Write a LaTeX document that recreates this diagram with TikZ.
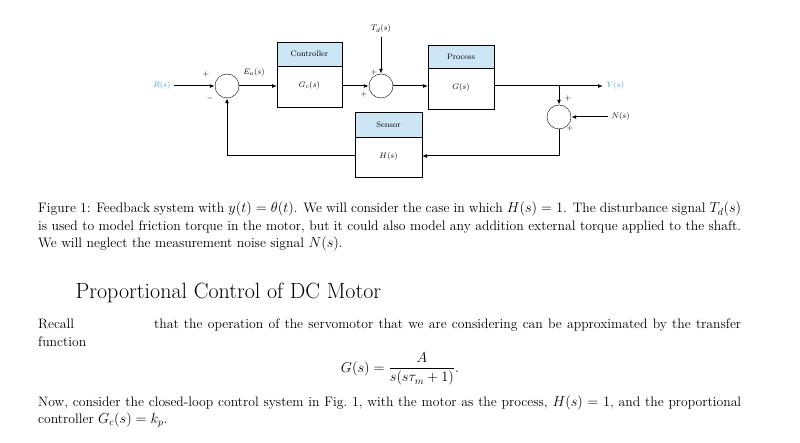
\documentclass[tikz,border=0pt]{standalone}
\usepackage{amsmath}
\usetikzlibrary{arrows.meta}
\definecolor{hdr}{RGB}{205,230,245}
\definecolor{sig}{RGB}{60,160,210}
\begin{document}
\begin{tikzpicture}[x=1pt,y=-1pt,
  sum/.style={circle,draw,minimum size=24pt,inner sep=0pt},
  line/.style={draw,line width=1pt},
  arr/.style={line,-{Latex[length=5pt,width=4pt]}},
  lbl/.style={font=\fontsize{8}{9}\selectfont},
  para/.style={anchor=north west,text width=703pt,align=justify,inner sep=0pt,font=\fontsize{13.7}{17.5}\selectfont}]
\useasboundingbox (0,0) rectangle (800,443);
% boxes
\fill[hdr] (277,42) rectangle (342,66);
\draw[line width=0.7pt] (277,42) rectangle (342,107) (277,66)--(342,66);
\node[lbl] (ct) at (309.5,54) {Controller};
\node[lbl] (gc) at (309.5,86) {$G_c(s)$};
\fill[hdr] (428,45) rectangle (494,68);
\draw[line width=0.7pt] (428,45) rectangle (494,109) (428,68)--(494,68);
\node[lbl] (pt) at (461,57) {Process};
\node[lbl] (gp) at (461,88) {$G(s)$};
\fill[hdr] (355,112) rectangle (422,137);
\draw[line width=0.7pt] (355,112) rectangle (422,177) (355,137)--(422,137);
\node[lbl] (st) at (388.5,124.5) {Sensor};
\node[lbl] (hs) at (388.5,157) {$H(s)$};
\coordinate (cl) at (277,86); \coordinate (cr) at (342,86);
\coordinate (pl) at (428,86); \coordinate (pr) at (494,86);
\coordinate (hr) at (422,156); \coordinate (hl) at (355,156);
\node[sum] (s1) at (227,86) {};
\node[sum] (s2) at (381,86) {};
\node[sum] (s3) at (559,117) {};
\node[lbl,text=sig,anchor=east] (r) at (174,86) {$R(s)$};
\node[lbl,text=sig,anchor=west] (y) at (603,86) {$Y(s)$};
\node[lbl,anchor=west] (n) at (608,117) {$N(s)$};
\node[lbl] (td) at (381,29) {$T_d(s)$};
\node[lbl] (ea) at (254,73) {$E_a(s)$};
\coordinate (br) at (559,86);
\draw[arr] (r) -- (s1);
\draw[arr] (s1) -- (cl);
\draw[arr] (cr) -- (s2);
\draw[arr] (s2) -- (pl);
\draw[arr] (pr) -- (y.west);
\draw[arr] (br) -- (s3);
\draw[arr] (n.west) -- (s3);
\draw[arr] (td) -- (s2);
\draw[arr] (s3) |- (hr);
\draw[arr] (hl) -| (s1);
\node[lbl] at (206,75) {$+$};
\node[lbl] at (210,99) {$-$};
\node[lbl] at (374,73) {$+$};
\node[lbl] at (364,95) {$+$};
\node[lbl] at (568,99) {$+$};
\node[lbl] at (570,129) {$+$};
% text
\node[para] (cap) at (38,202) {Figure 1: Feedback system with $y(t)=\theta(t)$. We will consider the case in which $H(s)=1$. The disturbance signal $T_d(s)$ is used to model friction torque in the motor, but it could also model any addition external torque applied to the shaft. We will neglect the measurement noise signal $N(s)$.};
\node[anchor=west,font=\fontsize{22}{26}\selectfont] (h) at (72,293) {Proportional Control of DC Motor};
\node[para] (rec) at (38,319) {Recall\hspace{80pt}that the operation of the servomotor that we are considering can be approximated by the transfer function};
\node[font=\fontsize{13.7}{16}\selectfont] (eq) at (400,369) {$\displaystyle G(s)=\frac{A}{s(s\tau_m+1)}.$};
\node[para] (now) at (38,395) {Now, consider the closed-loop control system in Fig.~1, with the motor as the process, $H(s)=1$, and the proportional controller $G_c(s)=k_p$.};
\end{tikzpicture}
\end{document}
